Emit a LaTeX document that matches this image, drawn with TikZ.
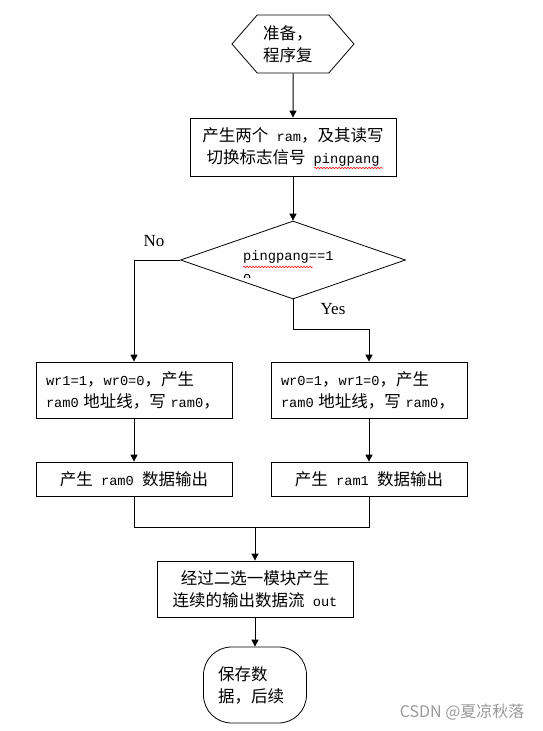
\documentclass[tikz,border=0pt]{standalone}
\usepackage{fontspec}
\usepackage{tikz}
\usetikzlibrary{shapes.geometric, shapes.symbols, arrows.meta, decorations.pathmorphing}
\setmainfont{Liberation Serif}
\setmonofont[Scale=0.83]{Liberation Mono}
\newfontfamily\cjk{Noto Sans CJK SC}
\newcommand{\zh}[1]{{\cjk #1}}

\begin{document}
\begin{tikzpicture}[x=1pt, y=-1pt,
    txt/.style={font=\fontsize{16.5}{22}\selectfont\ttfamily},
    box/.style={txt, draw, line width=0.8pt, inner sep=0pt, minimum width=196pt, align=center},
    flow/.style={line width=1pt, -{Triangle[length=7pt, width=7pt]}},
    link/.style={line width=1pt},
    yn/.style={font=\fontsize{17}{17}\selectfont},
    squig/.style={red, line width=0.5pt, decorate, decoration={snake, amplitude=0.8pt, segment length=3pt}}]
\useasboundingbox (0,0) rectangle (543,731);
    \node[txt, draw, line width=0.8pt, signal, signal to=west and east, signal pointer angle=98,
          minimum width=122pt, minimum height=58pt, inner xsep=0pt, text width=60pt, align=left]
          (start) at (293,44) {\zh{准备，}\\\zh{程序复}};
    \node[box, minimum width=206pt, minimum height=58pt] (gen) at (293,147)
          {\zh{产生两个} ram\zh{，及其读写}\\\zh{切换标志信号} pingpang};
    \node[diamond, draw, line width=0.8pt, inner sep=0pt, minimum width=225pt, minimum height=78pt]
          (dec) at (293,260) {};
    \node[txt, anchor=west, inner sep=0pt] (cond) at (243,257) {pingpang==1};
    \begin{scope}
        \clip (238,268) rectangle (262,277);
        \node[txt, anchor=west, inner sep=0pt] (cond0) at (243,279) {0};
    \end{scope}
    \node[box, minimum height=56pt, text width=176pt, inner xsep=10pt, align=left] (l1) at (134,390)
          {wr1=1\zh{，}wr0=0\zh{，产生}\\ram0 \zh{地址线，写} ram0\zh{，}};
    \node[box, minimum height=56pt, text width=176pt, inner xsep=10pt, align=left] (r1) at (369,390)
          {wr0=1\zh{，}wr1=0\zh{，产生}\\ram0 \zh{地址线，写} ram0\zh{，}};
    \node[box, minimum height=34pt] (l2) at (134,479) {\zh{产生} ram0 \zh{数据输出}};
    \node[box, minimum height=34pt] (r2) at (369,479) {\zh{产生} ram1 \zh{数据输出}};
    \node[box, minimum height=56pt] (sel) at (255,589)
          {\zh{经过二选一模块产生}\\\zh{连续的输出数据流} out};
    \node[txt, draw, line width=0.8pt, rounded corners=28pt, minimum width=103pt, minimum height=76pt,
          inner xsep=0pt, text width=74pt, align=left] (stop) at (255,685) {\zh{保存数}\\\zh{据，后续}};
    \node[yn] (no) at (154,241) {No};
    \node[yn] (yes) at (333,309) {Yes};
    \node[anchor=east, text=black!40, font=\cjk\fontsize{16}{16}\selectfont] (mark) at (528,712)
          {CSDN @夏凉秋落};
    \coordinate (ybend) at (293,329);
    \coordinate (mL) at (134,527);
    \coordinate (mR) at (369,527);
    \coordinate (mid) at (255,527);
    % spell-check marks
    \draw[squig] (314,168) -- (383,168);
    \draw[squig] (243,267) -- (313,267);
    \draw[flow] (start) -- (gen);
    \draw[flow] (gen) -- (dec);
    \draw[flow] (dec.west) -| (l1.north);
    \draw[flow] (dec.south) -- (ybend) -| (r1.north);
    \draw[flow] (l1) -- (l2);
    \draw[flow] (r1) -- (r2);
    \draw[link] (l2.south) -- (mL) -- (mR) -- (r2.south);
    \draw[flow] (mid) -- (sel);
    \draw[flow] (sel) -- (stop);
\end{tikzpicture}
\end{document}
